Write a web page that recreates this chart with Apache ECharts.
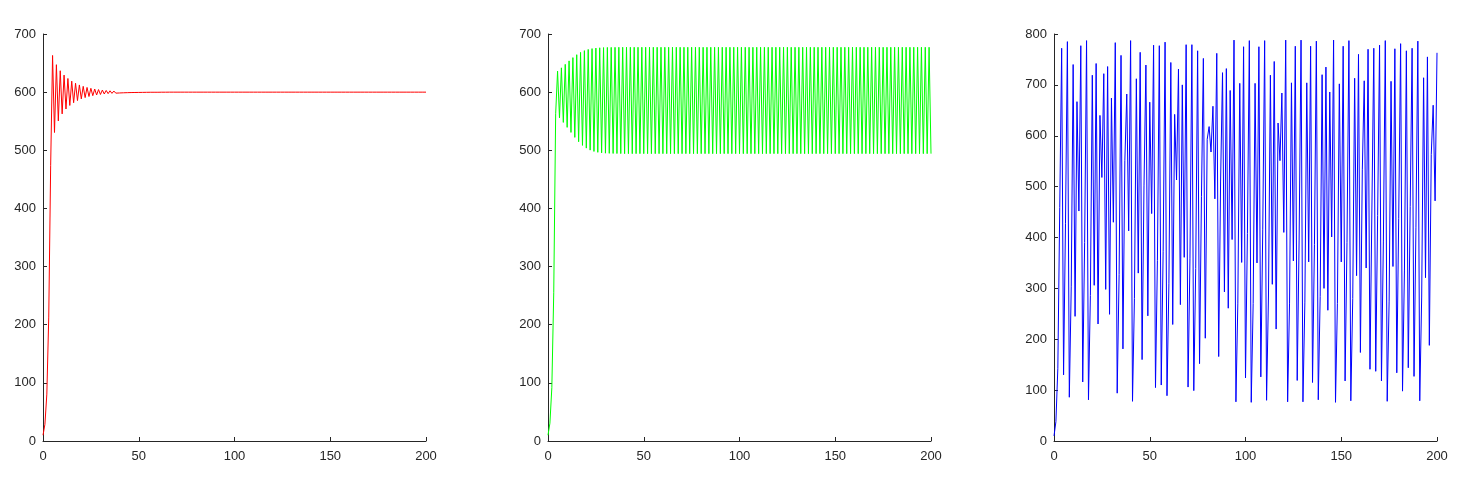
<!DOCTYPE html>
<html>
<head>
<meta charset="utf-8">
<script src="https://cdn.jsdelivr.net/npm/echarts@6/dist/echarts.min.js"></script>
<style>
html,body{margin:0;padding:0;background:#fff;}
#chart{width:1482px;height:497px;}
</style>
</head>
<body>
<div id="chart"></div>
<script>
// Time steps 0..200 are the x positions (index of each value)
const xTicks = [0, 50, 100, 150, 200];
const yTicksRedGreen = [0, 100, 200, 300, 400, 500, 600, 700];
const yTicksBlue = [0, 100, 200, 300, 400, 500, 600, 700, 800];

// Red series: damped oscillation to 600
const redValues = [
10,28.7,80.6,213.1,474.2,663.1,530.6,647.2,550.5,636.8,
562.6,629.3,571.0,623.5,577.1,618.9,581.8,615.3,585.5,612.4,
588.4,610.0,590.6,608.1,592.5,606.6,593.9,605.4,595.1,604.4,
596.0,603.6,596.8,602.9,597.4,602.3,597.9,601.9,598.3,601.5,
598.6,601.2,598.9,601.0,599.1,600.8,599.3,600.6,599.4,600.5,
599.5,600.4,599.6,600.3,599.7,600.3,599.8,600.2,599.8,600.2,
599.8,600.1,599.9,600.1,599.9,600.1,600,600,600,600,
600,600,600,600,600,600,600,600,600,600,
600,600,600,600,600,600,600,600,600,600,
600,600,600,600,600,600,600,600,600,600,
600,600,600,600,600,600,600,600,600,600,
600,600,600,600,600,600,600,600,600,600,
600,600,600,600,600,600,600,600,600,600,
600,600,600,600,600,600,600,600,600,600,
600,600,600,600,600,600,600,600,600,600,
600,600,600,600,600,600,600,600,600,600,
600,600,600,600,600,600,600,600,600,600,
600,600,600,600,600,600,600,600,600,600,
600,600,600,600,600,600,600,600,600,600,
600,600,600,600,600,600,600,600,600,600,
600
];

// Green series: settles into a 2-cycle (~494 / ~677)
const greenValues = [
10,30.7,91.7,254.9,562.8,636.1,555.8,641.8,547.9,647.8,
539.4,653.8,530.7,659.4,522.2,664.4,514.7,668.4,508.4,671.4,
503.7,673.5,500.3,674.9,498.0,675.8,496.5,676.3,495.6,676.7,
495.0,676.9,494.7,677.0,494.5,677.1,494.4,677.2,494.3,677.2,
494.2,677.2,494.2,677.2,494.2,677.2,494.2,677.2,494.2,677.2,
494.2,677.2,494.2,677.2,494.2,677.2,494.2,677.2,494.2,677.2,
494.2,677.2,494.2,677.2,494.2,677.2,494.2,677.2,494.2,677.2,
494.2,677.2,494.2,677.2,494.2,677.2,494.2,677.2,494.2,677.2,
494.2,677.2,494.2,677.2,494.2,677.2,494.2,677.2,494.2,677.2,
494.2,677.2,494.2,677.2,494.2,677.2,494.2,677.2,494.2,677.2,
494.2,677.2,494.2,677.2,494.2,677.2,494.2,677.2,494.2,677.2,
494.2,677.2,494.2,677.2,494.2,677.2,494.2,677.2,494.2,677.2,
494.2,677.2,494.2,677.2,494.2,677.2,494.2,677.2,494.2,677.2,
494.2,677.2,494.2,677.2,494.2,677.2,494.2,677.2,494.2,677.2,
494.2,677.2,494.2,677.2,494.2,677.2,494.2,677.2,494.2,677.2,
494.2,677.2,494.2,677.2,494.2,677.2,494.2,677.2,494.2,677.2,
494.2,677.2,494.2,677.2,494.2,677.2,494.2,677.2,494.2,677.2,
494.2,677.2,494.2,677.2,494.2,677.2,494.2,677.2,494.2,677.2,
494.2,677.2,494.2,677.2,494.2,677.2,494.2,677.2,494.2,677.2,
494.2,677.2,494.2,677.2,494.2,677.2,494.2,677.2,494.2,677.2,
494.2
];

// Blue series: chaotic
const blueValues = [
10,38,143,459,772,130,428,785,86,303,
740,245,667,452,777,116,390,787,81,286,
719,306,742,230,640,518,722,298,736,249,
674,430,783,94,327,758,181,551,682,413,
787,78,280,712,330,764,160,503,739,246,
666,447,778,105,355,777,110,372,784,89,
309,744,229,642,513,731,268,700,361,779,
106,358,779,99,339,767,152,481,752,202,
593,618,568,658,476,762,166,511,724,293,
732,261,689,396,788,77,271,703,351,775,
124,408,787,76,270,703,350,775,126,415,
787,80,285,719,308,746,220,625,551,684,
410,788,77,271,704,354,776,119,395,788,
77,273,704,352,776,115,386,786,81,284,
720,300,735,257,686,401,788,76,270,702,
352,776,118,390,787,79,280,713,325,760,
174,533,708,340,770,141,454,772,137,443,
778,118,393,787,78,275,707,343,771,134,
437,781,98,336,767,144,461,772,127,419,
786,79,283,714,321,755,188,563,660,472,
763
];

const toPairs = arr => arr.map((v, i) => [i, v]);

const axisColor = '#262626';
const font = 'Liberation Sans, Arial, Helvetica, sans-serif';

function makeX(idx) {
  return {
    type: 'value', gridIndex: idx,
    min: xTicks[0], max: xTicks[xTicks.length - 1], interval: xTicks[1] - xTicks[0],
    axisLine: { show: true, lineStyle: { color: axisColor, width: 1 } },
    axisTick: { show: true, inside: true, length: 4, lineStyle: { color: axisColor } },
    axisLabel: { color: axisColor, fontSize: 13, fontFamily: font, margin: 9 },
    splitLine: { show: false }
  };
}
function makeY(idx, ticks) {
  return {
    type: 'value', gridIndex: idx,
    min: ticks[0], max: ticks[ticks.length - 1], interval: ticks[1] - ticks[0],
    axisLine: { show: true, lineStyle: { color: axisColor, width: 1 } },
    axisTick: { show: true, inside: true, length: 4, lineStyle: { color: axisColor } },
    axisLabel: { color: axisColor, fontSize: 13, fontFamily: font, margin: 7 },
    splitLine: { show: false }
  };
}
function makeSeries(idx, data, color) {
  return {
    type: 'line', xAxisIndex: idx, yAxisIndex: idx,
    data: toPairs(data), showSymbol: false, symbol: 'none',
    lineStyle: { color: color, width: 1 },
    animation: false
  };
}

const chart = echarts.init(document.getElementById('chart'), null, { renderer: 'canvas' });
chart.setOption({
  animation: false,
  backgroundColor: '#ffffff',
  grid: [
    { left: 43, top: 34, width: 383, height: 407 },
    { left: 548, top: 34, width: 383, height: 407 },
    { left: 1054, top: 34, width: 383, height: 407 }
  ],
  xAxis: [makeX(0), makeX(1), makeX(2)],
  yAxis: [makeY(0, yTicksRedGreen), makeY(1, yTicksRedGreen), makeY(2, yTicksBlue)],
  series: [
    makeSeries(0, redValues, '#ff0000'),
    makeSeries(1, greenValues, '#00ff00'),
    makeSeries(2, blueValues, '#0000ff')
  ]
});
</script>
</body>
</html>
